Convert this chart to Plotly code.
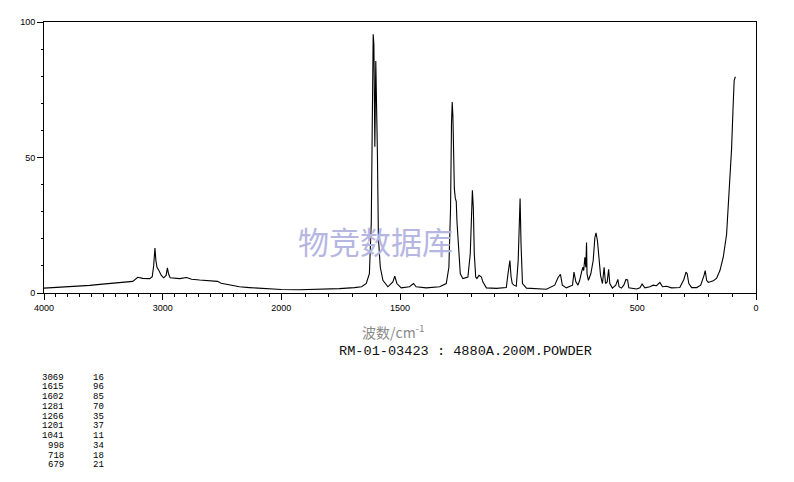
import plotly.graph_objects as go

# ---- spectrum data (wavenumber cm^-1, relative intensity) ----
wavenumber = [
    4000, 3865, 3739, 3613, 3529, 3403, 3294, 3252, 3210, 3168, 3109, 3088, 3076, 3065,
    3057, 3048, 3034, 3011, 2992, 2971, 2960, 2950, 2937, 2899, 2857, 2798, 2756, 2689,
    2605, 2538, 2507, 2437, 2353, 2269, 2185, 2101, 2000,
    1924, 1839, 1755, 1692, 1662, 1642, 1629, 1621, 1619, 1616, 1613, 1610, 1606, 1602,
    1599, 1595, 1591, 1583, 1572, 1551, 1530, 1522, 1513, 1495, 1460, 1443, 1432, 1389,
    1333, 1305, 1294, 1287, 1283, 1280, 1277, 1274, 1271, 1267, 1263, 1260, 1253, 1246,
    1235, 1214, 1204, 1198, 1195, 1191, 1187, 1181, 1176, 1167, 1157, 1151, 1136, 1094,
    1052, 1045, 1037, 1032, 1027, 1020, 1010, 1002, 998, 994, 990, 984, 967, 911, 883,
    848, 834, 824, 816, 799, 773, 767, 759, 750, 743, 735, 730, 726, 721, 717, 714, 712,
    706, 696, 686, 679, 674, 668, 662, 655, 647, 640, 634, 627, 621, 616, 605, 591, 582,
    577, 567, 557, 548, 541, 536, 503, 489, 480, 468, 447, 433, 419, 405, 394, 377, 356,
    321, 304, 295, 290, 283, 271, 250, 233, 219, 214, 208, 201, 180, 166, 152, 138, 124,
    117, 110, 103, 96, 92, 87,
]
intensity = [
    1.8, 2.1, 2.5, 2.8, 3.2, 3.6, 4.0, 4.3, 5.8, 5.4, 5.3, 6.0, 10.0, 16.6,
    12.0, 9.5, 8.5, 6.5, 5.6, 6.5, 9.3, 7.0, 5.6, 5.4, 5.3, 5.7, 5.1, 4.8,
    4.5, 4.3, 3.6, 2.9, 2.3, 2.0, 1.7, 1.5, 1.3,
    1.2, 1.3, 1.6, 2.0, 2.3, 3.5, 7.1, 26.0, 48.0, 87.0, 95.5, 91.7, 54.0, 85.6,
    74.7, 50.6, 20.4, 9.5, 4.7, 2.3, 4.1, 6.2, 3.5, 1.9, 2.3, 3.5, 2.3, 1.9,
    2.3, 3.5, 9.5, 31.3, 62.7, 70.5, 65.0, 50.6, 38.5, 35.0, 33.7, 26.4, 14.4, 7.1,
    5.3, 5.9, 14.4, 31.3, 37.9, 31.3, 14.4, 5.9, 5.3, 6.5, 5.9, 4.1, 1.9, 1.7,
    2.0, 7.1, 12.0, 6.0, 3.5, 2.9, 2.5, 12.0, 24.6, 34.9, 18.0, 3.5, 1.8, 1.6, 1.4,
    2.9, 5.7, 6.9, 2.9, 1.9, 2.9, 7.7, 4.1, 2.9, 4.7, 7.7, 9.5, 8.3, 13.2, 9.5, 18.6, 7.1,
    4.7, 7.1, 12.0, 20.4, 22.2, 19.2, 12.0, 6.5, 3.5, 9.5, 3.5, 4.1, 8.7, 3.5, 1.8, 2.9, 5.0,
    2.3, 1.8, 2.9, 5.0, 4.8, 1.9, 1.5, 1.9, 3.3, 1.9, 2.3, 2.9, 2.7, 3.9, 2.3, 2.5, 1.9,
    2.0, 5.0, 7.7, 7.1, 3.5, 2.0, 2.0, 2.9, 6.5, 8.3, 4.7, 3.9, 4.5, 5.5, 8.3, 13.2, 21.6,
    31.3, 43.0, 53.0, 69.9, 78.4, 79.8,
]

# ---- axis labels / peak table ----
x_tick_values = [4000, 3000, 2000, 1500, 500, 0]
y_tick_values = [0, 50, 100]
peak_wn = [3069, 1615, 1602, 1281, 1266, 1201, 1041, 998, 718, 679]
peak_int = [16, 96, 85, 70, 35, 37, 11, 34, 18, 21]

title_text = "RM-01-03423 : 4880A.200M.POWDER"
xlabel_text = "波数/cm<sup>-1</sup>"
watermark = "物竞数据库"


def u(w):
    """Split-scale axis: 4000-2000 at half scale, 2000-0 at full scale."""
    return w if w <= 2000 else 2000 + (w - 2000) / 2.0


# The page body has an 8px margin, so the figure is drawn 8px in from the window edge.
OFF = 8
W, H = 794 - OFF, 482 - OFF
L, R, T, B = 44, 756, 17, 293  # plot box in window pixels


def px(xp):
    return (xp - L) / (R - L)


def py(yp):
    return (B - yp) / (B - T)


fig = go.Figure()
fig.add_trace(go.Scatter(
    x=[u(w) for w in wavenumber], y=intensity, mode="lines",
    line=dict(color="black", width=1.1), hoverinfo="skip", showlegend=False,
))

minor_x = [u(v) for v in range(0, 4001, 100) if v not in x_tick_values]
tick_font = dict(family="Liberation Sans Narrow, Liberation Sans, Arial", size=9, color="black")

fig.update_layout(
    width=W, height=H, autosize=False,
    margin=dict(l=L - OFF, r=794 - R, t=T - OFF, b=482 - B, pad=0),
    paper_bgcolor="white", plot_bgcolor="white",
    showlegend=False,
    xaxis=dict(
        range=[u(4000), 0], showgrid=False, zeroline=False,
        showline=True, mirror=True, linecolor="black", linewidth=1,
        tickmode="array", tickvals=[u(v) for v in x_tick_values],
        ticktext=[str(v) for v in x_tick_values],
        ticks="outside", ticklen=6, tickwidth=1, tickcolor="black",
        tickfont=tick_font,
        minor=dict(tickmode="array", tickvals=minor_x, ticks="outside",
                   ticklen=3, tickwidth=1, tickcolor="black", showgrid=False),
    ),
    yaxis=dict(
        range=[0, 100], showgrid=False, zeroline=False,
        showline=True, mirror=True, linecolor="black", linewidth=1,
        tickmode="array", tickvals=y_tick_values,
        ticktext=[str(v) for v in y_tick_values],
        ticks="outside", ticklen=6, tickwidth=1, tickcolor="black",
        tickfont=tick_font,
        minor=dict(tickmode="linear", tick0=0, dtick=10, ticks="outside",
                   ticklen=2, tickwidth=1, tickcolor="black", showgrid=False),
    ),
)

annotations = [
    dict(text=watermark, x=px(375), y=py(240), xref="paper", yref="paper",
         showarrow=False, xanchor="center", yanchor="middle",
         font=dict(family="Noto Sans CJK SC", size=31, color="#b6b6e2")),
    dict(text=xlabel_text, x=px(393), y=py(332), xref="paper", yref="paper",
         showarrow=False, xanchor="center", yanchor="middle",
         font=dict(family="Noto Sans CJK SC", size=14, color="#8a8a8a")),
    dict(text=title_text, x=px(465), y=py(353), xref="paper", yref="paper",
         showarrow=False, xanchor="center", yanchor="middle",
         font=dict(family="Liberation Mono, DejaVu Sans Mono", size=13.6, color="#111111")),
]

row0, dy = 379.3, 9.93
for i, (wn, it) in enumerate(zip(peak_wn, peak_int)):
    yy = py(row0 + i * dy)
    annotations.append(dict(text=str(wn), x=px(66), y=yy, xref="paper", yref="paper",
                            showarrow=False, xanchor="right", yanchor="middle",
                            font=dict(family="Liberation Mono, DejaVu Sans Mono", size=9, color="black")))
    annotations.append(dict(text=str(it), x=px(106), y=yy, xref="paper", yref="paper",
                            showarrow=False, xanchor="right", yanchor="middle",
                            font=dict(family="Liberation Mono, DejaVu Sans Mono", size=9, color="black")))

fig.update_layout(annotations=annotations)
fig.write_html("out.html")
